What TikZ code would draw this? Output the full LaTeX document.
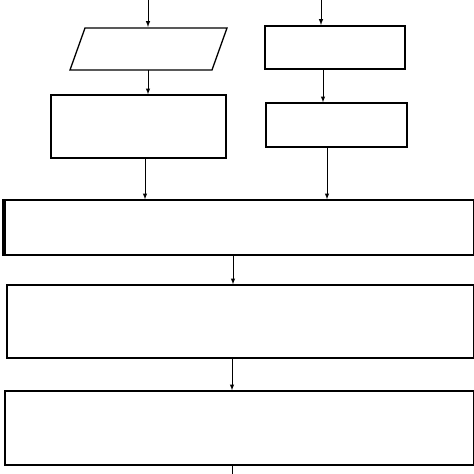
\documentclass[tikz,border=0pt]{standalone}
\begin{document}
\begin{tikzpicture}[x=1pt,y=-1pt,line width=1.3pt,
  box/.style={draw,rectangle,inner sep=0pt},
  arr/.style={draw,-latex,line width=1pt}]
\useasboundingbox (0,0) rectangle (474,474);
\node[box,minimum width=175,minimum height=63] (a) at (138.5,126.5) {};
\node[box,minimum width=140,minimum height=43] (r1) at (335,47.5) {};
\node[box,minimum width=141,minimum height=44] (r2) at (336.5,125) {};
\node[box,minimum width=471,minimum height=55] (b1) at (238.5,227.5) {};
\node[box,minimum width=467,minimum height=73] (b2) at (240.5,321.5) {};
\node[box,minimum width=469,minimum height=74] (b3) at (239.5,428) {};
\draw[line width=1.3pt] (70,70) -- (85,28) -- (227,28) -- (212,70) -- cycle;
\coordinate (p) at (148,49);
\coordinate (t1) at (148,0);
\coordinate (t2) at (321,0);
\coordinate (e) at (232,474);
\draw[arr] (t1) -- (148,27);
\draw[arr] (t2) -- (321,25);
\draw[arr] (148,70) -- (a.north -| 148,0);
\draw[arr] (r1.south -| 323,0) -- (r2.north -| 323,0);
\draw[arr] (a.south -| 145,0) -- (b1.north -| 145,0);
\draw[arr] (r2.south -| 327,0) -- (b1.north -| 327,0);
\draw[arr] (b1.south -| 233,0) -- (b2.north -| 233,0);
\draw[arr] (b2.south -| 232,0) -- (b3.north -| 232,0);
\draw[line width=1pt] (b3.south -| 232,0) -- (e);
\draw[line width=3pt] (4,200) -- (4,255);
\end{tikzpicture}
\end{document}
